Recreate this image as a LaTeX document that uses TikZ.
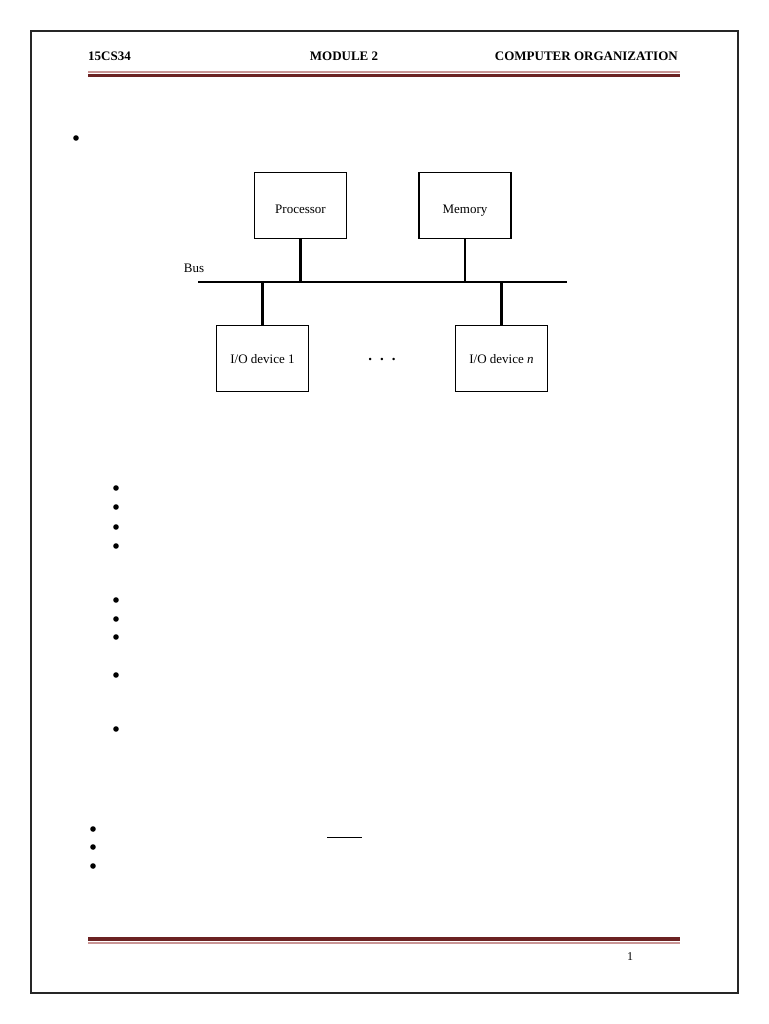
\documentclass[tikz,border=0pt]{standalone}
\usepackage{fontspec}
\setmainfont{Liberation Serif}
\definecolor{maroonD}{HTML}{6B2222}
\definecolor{maroonL}{HTML}{C99595}
\begin{document}
\begin{tikzpicture}[x=1pt,y=-1pt,
  box/.style={draw,line width=1.6pt,minimum width=92pt,minimum height=66pt,inner sep=0pt,font=\fontsize{13}{14}\selectfont},
  link/.style={line width=2.6pt},
  head/.style={font=\bfseries\fontsize{13}{15}\selectfont,inner sep=0pt},
  bul/.style={fill=black}]
\useasboundingbox (0,0) rectangle (768,1024);
\fill[white] (0,0) rectangle (768,1024);
% page frame
\draw[line width=1.5pt,black!85] (31,31) rectangle (738,993);
% header
\node[head,anchor=base west] (code) at (88,61) {15CS34};
\node[head,anchor=base] (mod) at (344,61) {MODULE 2};
\node[head,anchor=base east] (title) at (678,61) {COMPUTER ORGANIZATION};
\draw[maroonL,line width=1.2pt] (88,72) -- (680,72);
\draw[maroonD,line width=3.5pt] (88,75.5) -- (680,75.5);
% footer
\draw[maroonD,line width=3.5pt] (88,939) -- (680,939);
\draw[maroonL,line width=1.2pt] (88,943) -- (680,943);
\node[font=\fontsize{12}{14}\selectfont,inner sep=0pt] (pnum) at (630,957) {1};
% diagram
\node[box] (proc) at (300.5,205.5) {\raisebox{-8pt}[0pt][0pt]{Processor}};
\node[box] (mem) at (465,205.5) {\raisebox{-8pt}[0pt][0pt]{Memory}};
\node[box] (io1) at (262.5,358.5) {\raisebox{-5pt}[0pt][0pt]{I/O device 1}};
\node[box] (ion) at (501.5,358.5) {\raisebox{-5pt}[0pt][0pt]{I/O device \textit{n}}};
\coordinate (busL) at (198,282);
\coordinate (busR) at (567,282);
\draw[link] (busL) -- (busR);
\draw[link] (proc.south) -- (proc.south |- busL);
\draw[link] (mem.south) -- (mem.south |- busL);
\draw[link] (io1.north) -- (io1.north |- busL);
\draw[link] (ion.north) -- (ion.north |- busL);
\node[font=\fontsize{13}{14}\selectfont,inner sep=0pt] (buslabel) at (194,268) {Bus};
\node[font=\bfseries\fontsize{15}{16}\selectfont,inner sep=0pt] (dots) at (382,359) {.\hspace{8pt}.\hspace{8pt}.};
% bullets
\fill[bul] (76,138) circle (2.8);
\foreach \y in {488,507,527,546,600,619,637,675,729} {\fill[bul] (116,\y) circle (2.8);}
\foreach \y in {829,847,866} {\fill[bul] (93,\y) circle (2.8);}
\draw[line width=1pt] (327,837) -- (362,837);
\end{tikzpicture}
\end{document}
